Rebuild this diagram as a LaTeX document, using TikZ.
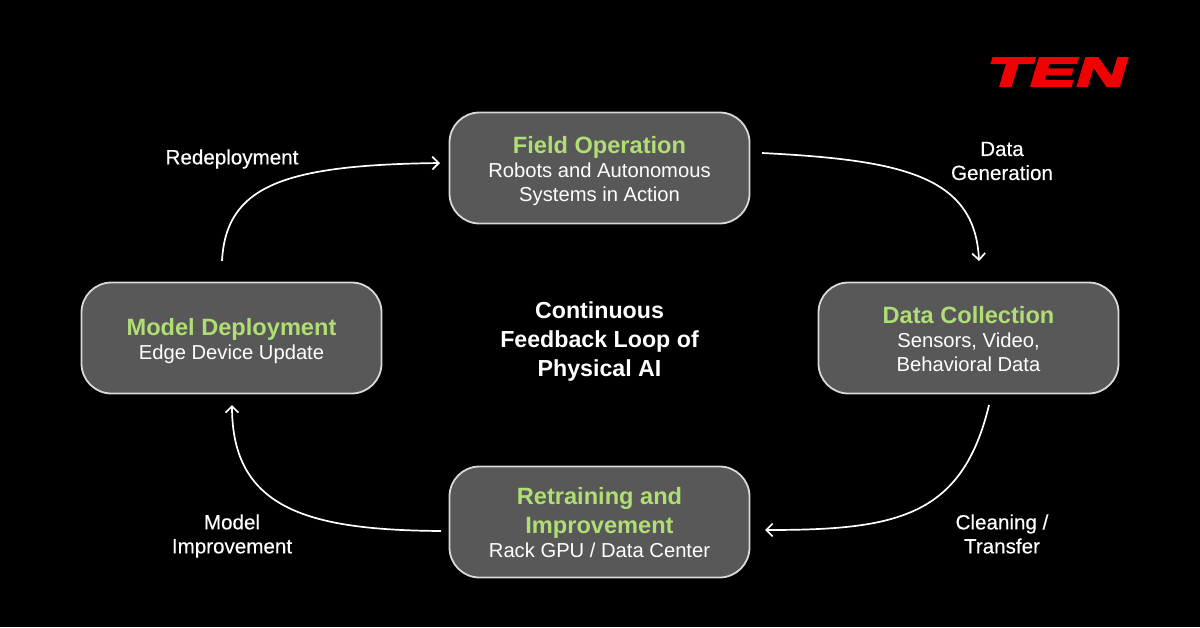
\documentclass[tikz,border=0pt]{standalone}
\usepackage{fontspec}
\setmainfont{Liberation Sans}
\newfontfamily\logofont[FakeSlant=0.3,FakeStretch=1.74,FakeBold=6]{Liberation Sans Bold}
\newfontfamily\medfont[FakeBold=0.25]{Liberation Sans}
\usetikzlibrary{arrows.meta}
\definecolor{boxfill}{HTML}{585858}
\definecolor{boxedge}{HTML}{D9D9D9}
\definecolor{titlegreen}{HTML}{B1DD75}
\definecolor{logored}{HTML}{F00000}
\newcommand{\boxtitle}[1]{{\fontsize{23.6pt}{24pt}\selectfont\bfseries\color{titlegreen}#1}}
\tikzset{
  x=1pt,y=-1pt,
  stagebox/.style={draw=boxedge,line width=1.8pt,fill=boxfill,rounded corners=30pt,minimum width=300pt,minimum height=111pt,inner sep=0pt},
  boxtext/.style={text=white,align=center,inner sep=0pt,font=\fontsize{20.2pt}{24pt}\selectfont},
  flow/.style={draw=white,line width=1.7pt,-{Straight Barb[length=6.5pt,width=13pt,line width=1.7pt]}},
  flowlabel/.style={text=white,align=center,inner sep=0pt,font=\medfont\fontsize{20.6pt}{24pt}\selectfont},
  centerlabel/.style={text=white,align=center,inner sep=0pt,font=\fontsize{23.2pt}{29pt}\selectfont\bfseries}
}
\begin{document}
\begin{tikzpicture}
\fill[black] (0,0) rectangle (1200,627);
\useasboundingbox (0,0) rectangle (1200,627);
\node[stagebox] (field) at (599.5,168) {};
\node[boxtext] (fieldtext) at (599.5,171) {\boxtitle{Field Operation}\\Robots and Autonomous\\Systems in Action};
\node[stagebox] (data) at (968.5,338) {};
\node[boxtext] (datatext) at (968.5,339) {\boxtitle{Data Collection}\\Sensors, Video,\\Behavioral Data};
\node[stagebox] (model) at (231.5,338) {};
\node[boxtext] (modeltext) at (231.5,341) {\boxtitle{Model Deployment}\\Edge Device Update};
\node[stagebox] (retrain) at (599.5,522) {};
\node[boxtext] (retraintext) at (599.5,523) {\boxtitle{Retraining and}\\[5pt]\boxtitle{Improvement}\\Rack GPU / Data Center};
\node[centerlabel] (loop) at (599.5,341) {Continuous\\Feedback Loop of\\Physical AI};
\node[flowlabel] (l1) at (232,159) {Redeployment};
\node[flowlabel] (l2) at (1002,161) {Data\\Generation};
\node[flowlabel] (l3) at (1002,534) {Cleaning /\\Transfer};
\node[flowlabel] (l4) at (232,536) {Model\\Improvement};
\node[text=logored,inner sep=0pt,font=\logofont\fontsize{40pt}{40pt}\selectfont] (logo) at (1054,72) {TEN};
\coordinate (a1) at (222,261);
\coordinate (a2) at (440,163);
\coordinate (b1) at (762,153);
\coordinate (b2) at (979,261);
\coordinate (c1) at (989,405);
\coordinate (c2) at (765,530);
\coordinate (d1) at (441,531);
\coordinate (d2) at (232,405);
\draw[flow] (a1) .. controls (226,185) and (285,165) .. (a2);
\draw[flow] (b1) .. controls (900,160) and (975,175) .. (b2);
\draw[flow] (c1) .. controls (962,518) and (895,530) .. (c2);
\draw[flow] (d1) .. controls (310,530) and (232,510) .. (d2);
\end{tikzpicture}
\end{document}
